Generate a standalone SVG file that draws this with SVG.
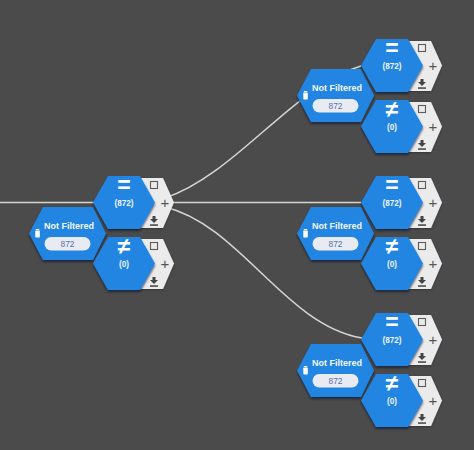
<svg xmlns="http://www.w3.org/2000/svg" width="474" height="450" viewBox="0 0 474 450">
<style>
.hex{fill:#2085e1;filter:url(#sh)}
.back{fill:#ebebeb;filter:url(#sh2)}
.conn{fill:none;stroke:#d6d6d2;stroke-width:1.5}
text{font-family:"Liberation Sans",Arial,sans-serif;text-anchor:middle}
.title{font-size:9px;font-weight:bold;fill:#f4f8fd}
.count{font-size:8.4px;fill:#5a6ea6}
.num{font-size:8.2px;font-weight:bold;fill:#eef5fc}
.sym{font-size:23px;font-weight:bold;fill:#fff}
.plus{font-size:15px;fill:#555}
.chk{fill:none;stroke:#5c5c5c;stroke-width:1.1}
</style>
<defs>
<filter id="sh" x="-20%" y="-20%" width="140%" height="140%"><feDropShadow dx="0" dy="2" stdDeviation="1.2" flood-color="#0c1c30" flood-opacity="0.75"/></filter>
<filter id="sh2" x="-20%" y="-20%" width="140%" height="140%"><feDropShadow dx="0" dy="1" stdDeviation="0.8" flood-color="#222" flood-opacity="0.5"/></filter>
<g id="trash"><rect x="35.300" y="230.500" width="4.500" height="7" rx="0.800" fill="#fff"/><rect x="35.800" y="229" width="3.500" height="1" fill="#fff"/></g>
<g id="dl"><path d="M0 0h3v3h2.500l-4 4-4-4h2.500z" fill="#444" transform="translate(-1.500 0)"/><rect x="-4" y="8.300" width="8" height="1.500" fill="#444"/></g>
<g id="filter"><polygon class="hex" points="29,233.500 43,207 93,207 106,233.500 93,260 43,260"/><use href="#trash"/><rect x="44.500" y="237" width="46" height="13.500" rx="6.700" fill="#e9ebf2"/></g>
<g id="op"><polygon class="back" points="136,178 163,178 174,202.500 163,228 136,228"/><polygon class="hex" points="93,202.500 108,176 140,176 155,202.500 140,229 108,229"/><rect class="chk" x="150.500" y="181.500" width="7" height="7"/><use href="#dl" x="154" y="216"/></g>
</defs>
<rect width="474" height="450" fill="#4b4b4b"/>
<g id="connectors">
<path class="conn" d="M0 202.500H361"/>
<path class="conn" d="M165 198C235 175 295 85 361 66"/>
<path class="conn" d="M165 207C240 225 285 325 362 338"/>
</g>

<g id="root-filter"><use href="#filter"/><text class="title" x="69" y="229">Not Filtered</text><text class="count" x="67.500" y="247">872</text></g>
<g id="root-eq"><use href="#op"/><text class="sym" x="124" y="193">=</text><text class="num" x="124" y="206">(872)</text><text class="plus" x="165" y="207.500">+</text></g>
<g id="root-neq" transform="translate(0 61)"><use href="#op"/><text class="sym" x="124" y="193">≠</text><text class="num" x="124" y="206">(0)</text><text class="plus" x="165" y="207.500">+</text></g>

<g id="top-filter" transform="translate(268 -138)"><use href="#filter"/><text class="title" x="69" y="229">Not Filtered</text><text class="count" x="67.500" y="247">872</text></g>
<g id="top-eq" transform="translate(268 -137)"><use href="#op"/><text class="sym" x="124" y="193">=</text><text class="num" x="124" y="206">(872)</text><text class="plus" x="165" y="207.500">+</text></g>
<g id="top-neq" transform="translate(268 -76)"><use href="#op"/><text class="sym" x="124" y="193">≠</text><text class="num" x="124" y="206">(0)</text><text class="plus" x="165" y="207.500">+</text></g>

<g id="mid-filter" transform="translate(268 0)"><use href="#filter"/><text class="title" x="69" y="229">Not Filtered</text><text class="count" x="67.500" y="247">872</text></g>
<g id="mid-eq" transform="translate(268 0)"><use href="#op"/><text class="sym" x="124" y="193">=</text><text class="num" x="124" y="206">(872)</text><text class="plus" x="165" y="207.500">+</text></g>
<g id="mid-neq" transform="translate(268 61)"><use href="#op"/><text class="sym" x="124" y="193">≠</text><text class="num" x="124" y="206">(0)</text><text class="plus" x="165" y="207.500">+</text></g>

<g id="bot-filter" transform="translate(268 137)"><use href="#filter"/><text class="title" x="69" y="229">Not Filtered</text><text class="count" x="67.500" y="247">872</text></g>
<g id="bot-eq" transform="translate(268 137)"><use href="#op"/><text class="sym" x="124" y="193">=</text><text class="num" x="124" y="206">(872)</text><text class="plus" x="165" y="207.500">+</text></g>
<g id="bot-neq" transform="translate(268 198)"><use href="#op"/><text class="sym" x="124" y="193">≠</text><text class="num" x="124" y="206">(0)</text><text class="plus" x="165" y="207.500">+</text></g>
</svg>
